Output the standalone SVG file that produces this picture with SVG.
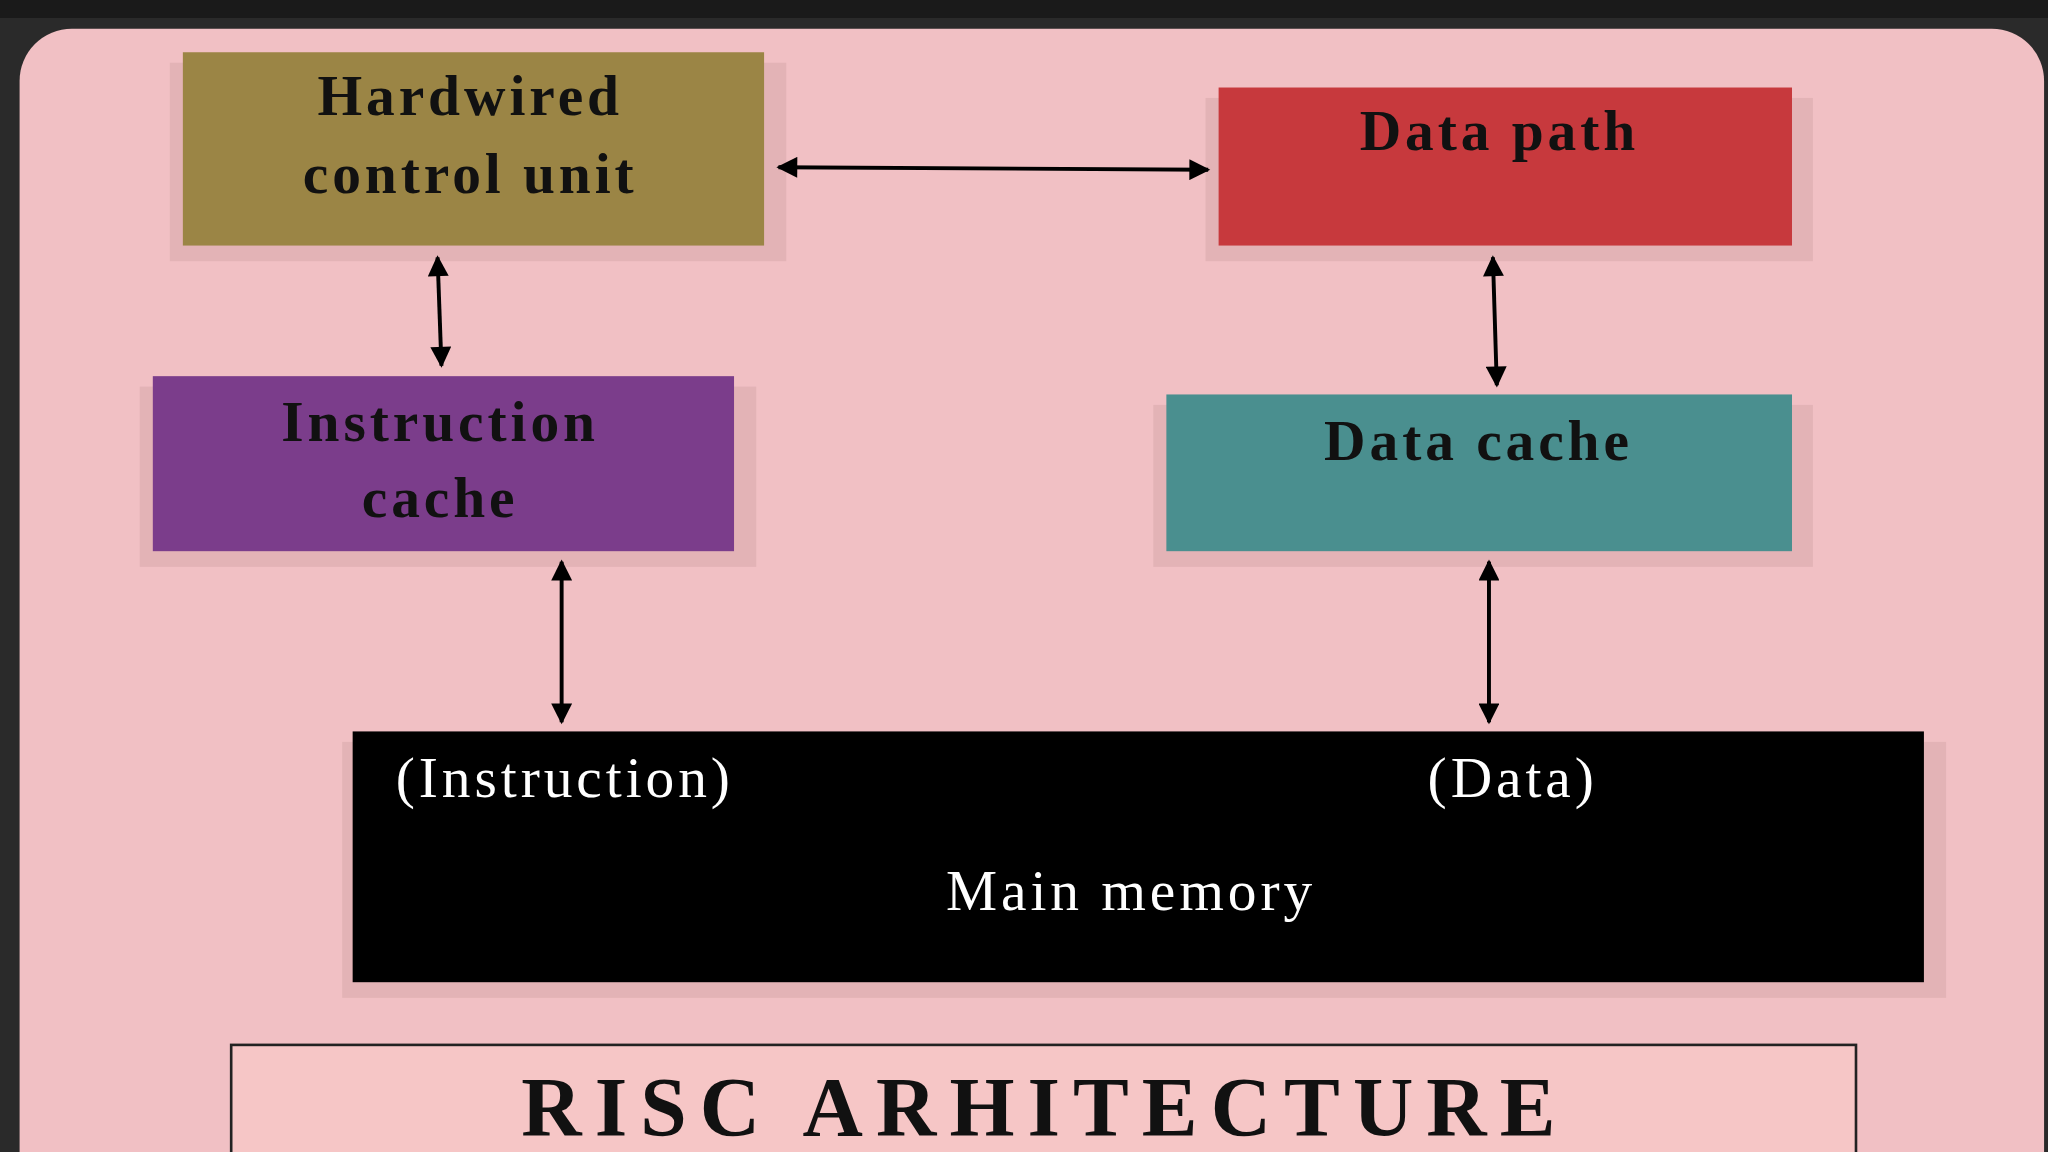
<svg xmlns="http://www.w3.org/2000/svg" width="2048" height="1152" viewBox="0 0 2048 1152">
<defs>
<marker id="ah" viewBox="0 0 10 10" refX="9" refY="5" markerWidth="20" markerHeight="16" markerUnits="userSpaceOnUse" orient="auto-start-reverse"><path d="M0,0 L10,5 L0,10 z" fill="#000"/></marker>
<style>
.t{font-family:"Liberation Serif","Times New Roman",serif;font-size:44px;text-anchor:middle;fill:#111;letter-spacing:3px;font-weight:bold}
.w{font-family:"Liberation Serif","Times New Roman",serif;font-size:44px;fill:#fff;letter-spacing:3px}
.sh{fill:#e3b3b6}
.c{stroke:#000;stroke-width:3;fill:none;marker-start:url(#ah);marker-end:url(#ah)}
</style>
</defs>
<rect width="2048" height="1152" fill="#2a2a2a"/>
<g transform="scale(1.30612)">
<rect x="15" y="22" width="1550" height="900" rx="40" fill="#f1c0c4"/>
<g id="hcu"><rect class="sh" x="130" y="48" width="472" height="152"/><rect x="140" y="40" width="445" height="148" fill="#9b8545"/><text class="t" x="360" y="88">Hardwired</text><text class="t" x="360" y="148">control unit</text></g>
<g id="datapath"><rect class="sh" x="923" y="75" width="465" height="125"/><rect x="933" y="67" width="439" height="121" fill="#c7393d"/><text class="t" x="1148" y="115">Data path</text></g>
<g id="icache"><rect class="sh" x="107" y="296" width="472" height="138"/><rect x="117" y="288" width="445" height="134" fill="#7b3d8b"/><text class="t" x="337" y="338">Instruction</text><text class="t" x="337" y="396">cache</text></g>
<g id="dcache"><rect class="sh" x="883" y="310" width="505" height="124"/><rect x="893" y="302" width="479" height="120" fill="#4a8f8f"/><text class="t" x="1132" y="352">Data cache</text></g>
<g id="mem"><rect class="sh" x="262" y="568" width="1228" height="196"/><rect x="270" y="560" width="1203" height="192" fill="#000"/><text class="w" x="303" y="610">(Instruction)</text><text class="w" x="1093" y="610">(Data)</text><text class="w" x="866" y="697" text-anchor="middle">Main memory</text></g>
<g id="title"><rect x="177" y="800" width="1244" height="120" fill="#f6c6c6" stroke="#222" stroke-width="2"/><text x="800" y="870" text-anchor="middle" font-family="Liberation Serif,Times New Roman,serif" font-weight="bold" font-size="64" letter-spacing="10" fill="#111">RISC ARHITECTURE</text></g>
<g id="connectors">
<line class="c" x1="596" y1="128" x2="925" y2="130"/>
<line class="c" x1="335" y1="197" x2="338" y2="280"/>
<line class="c" x1="1143" y1="197" x2="1146" y2="295"/>
<line class="c" x1="430" y1="430" x2="430" y2="553"/>
<line class="c" x1="1140" y1="430" x2="1140" y2="553"/>
</g>
</g>
<rect width="2048" height="18" fill="#1a1a1a"/>
</svg>
